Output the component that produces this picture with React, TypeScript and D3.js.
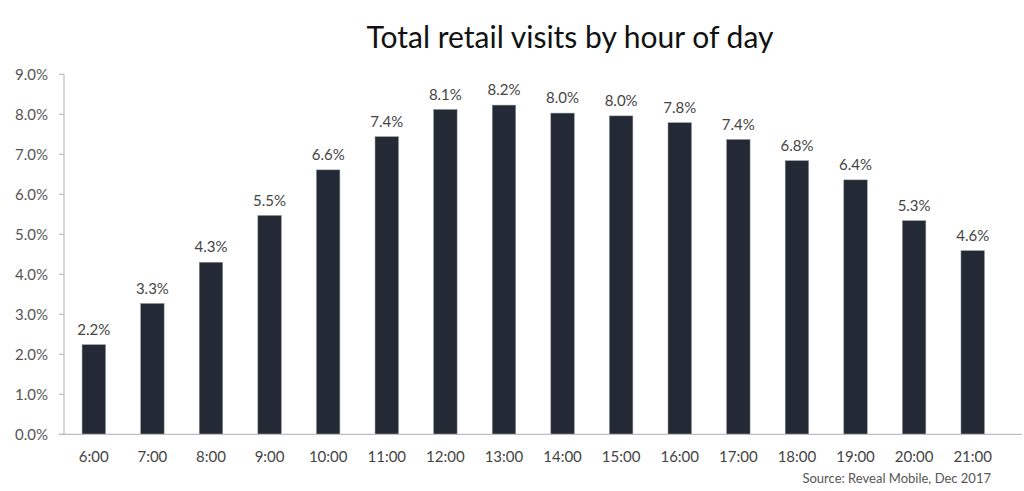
import React from 'react';
import * as d3 from 'd3';

// Hour-of-day categories and share of total retail visits (%)
const hours = [
    '6:00', '7:00', '8:00', '9:00', '10:00', '11:00', '12:00', '13:00',
    '14:00', '15:00', '16:00', '17:00', '18:00', '19:00', '20:00', '21:00',
];
const visitShare = [
    2.24, 3.27, 4.3, 5.47, 6.61, 7.44, 8.12, 8.23,
    8.03, 7.96, 7.79, 7.37, 6.84, 6.36, 5.34, 4.59,
];
const yTicks = [0, 1, 2, 3, 4, 5, 6, 7, 8, 9];

const W = 1024;
const H = 491;
const FONT = 'Lato, "Noto Sans", sans-serif';

export default function App() {
    const x = d3.scaleBand<string>().domain(hours).range([64.5, 1002]).paddingInner(0.6).paddingOuter(0.3);
    const y = d3.scaleLinear().domain([0, 9]).range([434.3, 74.3]);
    const axisColor = '#bdbdbd';

    return (
        <svg
            width={W}
            height={H}
            viewBox={`0 0 ${W} ${H}`}
            style={{ position: 'absolute', left: 0, top: 0, background: '#fff', fontFamily: FONT }}
        >
            {/* Title */}
            <text x={570} y={48} textAnchor="middle" fontSize={30} fill="#111">
                Total retail visits by hour of day
            </text>

            {/* Y axis */}
            <line x1={64} x2={64} y1={y(9)} y2={y(0)} stroke={axisColor} strokeWidth={1.2} />
            {yTicks.map((t) => (
                <g key={t} transform={`translate(0,${y(t)})`}>
                    <line x1={59} x2={64} stroke={axisColor} strokeWidth={1.2} />
                    <text x={48} dy="0.35em" textAnchor="end" fontSize={15} fill="#555">
                        {`${t.toFixed(1)}%`}
                    </text>
                </g>
            ))}

            {/* Bars */}
            {hours.map((h, i) => {
                const v = visitShare[i];
                const bx = x(h) ?? 0;
                return (
                    <g key={h}>
                        <rect
                            x={bx}
                            y={y(v)}
                            width={x.bandwidth()}
                            height={y(0) - y(v)}
                            fill="#232a35"
                            stroke="#8a8f96"
                            strokeWidth={0.5}
                        />
                        <text
                            x={bx + x.bandwidth() / 2}
                            y={y(v) - 10}
                            textAnchor="middle"
                            fontSize={15}
                            fill="#444"
                        >
                            {`${v.toFixed(1)}%`}
                        </text>
                        <text
                            x={bx + x.bandwidth() / 2}
                            y={462}
                            textAnchor="middle"
                            fontSize={15}
                            fill="#444"
                        >
                            {h}
                        </text>
                    </g>
                );
            })}

            {/* X axis */}
            <line x1={59} x2={1022} y1={y(0)} y2={y(0)} stroke={axisColor} strokeWidth={1.2} />

            {/* Source */}
            <text x={991} y={483} textAnchor="end" fontSize={13} fill="#555">
                Source: Reveal Mobile, Dec 2017
            </text>
        </svg>
    );
}
